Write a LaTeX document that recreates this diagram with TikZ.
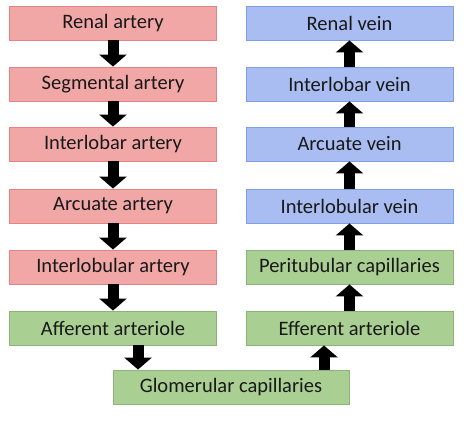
\documentclass[tikz,border=0pt]{standalone}
\usepackage{fontspec}
\setmainfont{Carlito}
\usetikzlibrary{arrows.meta}
\usetikzlibrary{positioning}
\definecolor{artfill}{HTML}{F2A7A7}
\definecolor{artline}{HTML}{E58383}
\definecolor{veinfill}{HTML}{A9BDF2}
\definecolor{veinline}{HTML}{809EE6}
\definecolor{capfill}{HTML}{AACF92}
\definecolor{capline}{HTML}{8DB37A}

\begin{document}
\begin{tikzpicture}[x=1pt,y=-1pt,
  box/.style={draw,line width=0.9pt,minimum width=207pt,minimum height=34pt,inner sep=0pt,text=black!90,font=\fontsize{20.5}{22}\selectfont},
  artery/.style={box,fill=artfill,draw=artline},
  vein/.style={box,fill=veinfill,draw=veinline},
  capil/.style={box,fill=capfill,draw=capline},
  flow/.style={line width=11pt,-{Triangle[width=27pt,length=12pt]}}]
\useasboundingbox (0,0) rectangle (474,424);
\node [artery] (ra) at (113,23) {Renal artery};
\node [artery] (sa) at (113,84) {Segmental artery};
\node [artery] (ia) at (113,144) {Interlobar artery};
\node [artery] (aa) at (113,206) {Arcuate artery};
\node [artery] (la) at (113,267) {Interlobular artery};
\node [capil] (aff) at (113,328) {Afferent arteriole};
\node [capil,minimum width=236pt] (glom) at (231,387) {Glomerular capillaries};
\node [capil] (eff) at (349.5,328) {Efferent arteriole};
\node [capil] (per) at (349.5,267) {Peritubular capillaries};
\node [vein] (lv) at (349.5,206) {Interlobular vein};
\node [vein] (av) at (349.5,144) {Arcuate vein};
\node [vein] (iv) at (349.5,84) {Interlobar vein};
\node [vein] (rv) at (349.5,23) {Renal vein};
% arteries down
\draw [flow] (ra) -- (sa);
\draw [flow] (sa) -- (ia);
\draw [flow] (ia) -- (aa);
\draw [flow] (aa) -- (la);
\draw [flow] (la) -- (aff);
\draw [flow] ([xshift=25pt]aff.south) -- ([xshift=25pt]aff.south |- glom.north);
% veins up
\draw [flow] ([xshift=-25.5pt]eff.south |- glom.north) -- ([xshift=-25.5pt]eff.south);
\draw [flow] (eff) -- (per);
\draw [flow] (per) -- (lv);
\draw [flow] (lv) -- (av);
\draw [flow] (av) -- (iv);
\draw [flow] (iv) -- (rv);
\end{tikzpicture}
\end{document}
